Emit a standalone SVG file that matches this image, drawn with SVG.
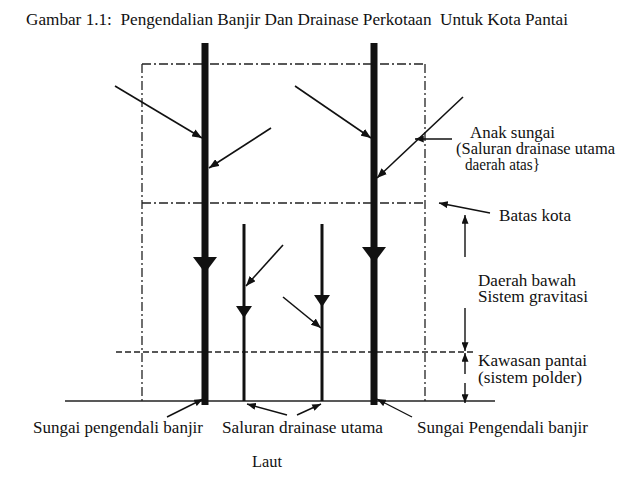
<svg xmlns="http://www.w3.org/2000/svg" width="638" height="478" viewBox="0 0 638 478">
<defs>
<marker id="ah" viewBox="0 0 10 8" refX="10" refY="4" markerWidth="10" markerHeight="8" markerUnits="userSpaceOnUse" orient="auto"><path d="M0,0 L10,4 L0,8 Z" fill="#111"/></marker>
<marker id="ahs" viewBox="0 0 10 8" refX="10" refY="4" markerWidth="9" markerHeight="7" markerUnits="userSpaceOnUse" orient="auto"><path d="M0,0 L10,4 L0,8 Z" fill="#111"/></marker>
</defs>
<style>
text{font-family:"Liberation Serif","Times New Roman",serif;font-size:16px;fill:#111;white-space:pre}
.river{stroke:#111;stroke-width:7;fill:none}
.chan{stroke:#111;stroke-width:3;fill:none}
.trib{stroke:#111;stroke-width:1.6;fill:none;marker-end:url(#ah)}
.ptr{stroke:#111;stroke-width:1.4;fill:none;marker-end:url(#ahs)}
.dd{stroke:#222;stroke-width:1.3;fill:none;stroke-dasharray:9,3,2,3}
.dash{stroke:#222;stroke-width:1.3;fill:none;stroke-dasharray:6,3}
.head{fill:#111}
</style>
<rect width="638" height="478" fill="#fff"/>
<text x="26" y="25" font-size="15" xml:space="preserve" textLength="542" lengthAdjust="spacingAndGlyphs">Gambar 1.1:  Pengendalian Banjir Dan Drainase Perkotaan  Untuk Kota Pantai</text>
<g id="boundaries">
<path class="dd" d="M142,64 H425 M142,64 V401 M425,64 V401 M142,203 H425"/>
<path class="dash" d="M116,352 H476"/>
<path d="M65,401 H495" stroke="#222" stroke-width="1.4"/>
</g>
<g id="river-left">
<path class="river" d="M205,43 V405"/>
<path class="head" d="M193,257 L217,257 L205,273 Z"/>
</g>
<g id="river-right">
<path class="river" d="M374,43 V405"/>
<path class="head" d="M362,247 L386,247 L374,263 Z"/>
</g>
<g id="channel-1">
<path class="chan" d="M244,224 V401"/>
<path class="head" d="M236,306 L252,306 L244,318 Z"/>
</g>
<g id="channel-2">
<path class="chan" d="M322,224 V401"/>
<path class="head" d="M314,295 L330,295 L322,307 Z"/>
</g>
<g id="connectors">
<path class="trib" d="M115,86 L202,138"/>
<path class="trib" d="M271,128 L209,168"/>
<path class="trib" d="M295,86 L371,138"/>
<path class="trib" d="M463,97 L377,178"/>
<path class="trib" d="M283,245 L246,286"/>
<path class="trib" d="M283,297 L321,328"/>
<path class="ptr" d="M452,139 L415,139"/>
<path class="ptr" d="M490,213 L439,203"/>
<path class="ptr" d="M465,257 V215"/>
<path class="ptr" d="M465,308 V351"/>
<path class="ptr" d="M465,374 V353"/>
<path class="ptr" d="M465,383 V403"/>
<path class="ptr" d="M167,417 L203,399"/>
<path class="ptr" d="M287,415 L247,404"/>
<path class="ptr" d="M297,415 L321,404"/>
<path class="ptr" d="M412,417 L377,399"/>
</g>
<g id="labels">
<text x="470" y="138" textLength="85" lengthAdjust="spacingAndGlyphs">Anak sungai</text>
<text x="456" y="154" textLength="159" lengthAdjust="spacingAndGlyphs">(Saluran drainase utama</text>
<text x="465" y="170" textLength="75" lengthAdjust="spacingAndGlyphs">daerah atas}</text>
<text x="499" y="221" textLength="72" lengthAdjust="spacingAndGlyphs">Batas kota</text>
<text x="478" y="286" textLength="98" lengthAdjust="spacingAndGlyphs">Daerah bawah</text>
<text x="478" y="302" textLength="110" lengthAdjust="spacingAndGlyphs">Sistem gravitasi</text>
<text x="478" y="366" textLength="109" lengthAdjust="spacingAndGlyphs">Kawasan pantai</text>
<text x="478" y="383" textLength="104" lengthAdjust="spacingAndGlyphs">(sistem polder)</text>
<text x="33" y="433" textLength="170" lengthAdjust="spacingAndGlyphs">Sungai pengendali banjir</text>
<text x="222" y="433" textLength="161" lengthAdjust="spacingAndGlyphs">Saluran drainase utama</text>
<text x="417" y="433" textLength="171" lengthAdjust="spacingAndGlyphs">Sungai Pengendali banjir</text>
<text x="252" y="467" textLength="30" lengthAdjust="spacingAndGlyphs">Laut</text>
</g>
</svg>
